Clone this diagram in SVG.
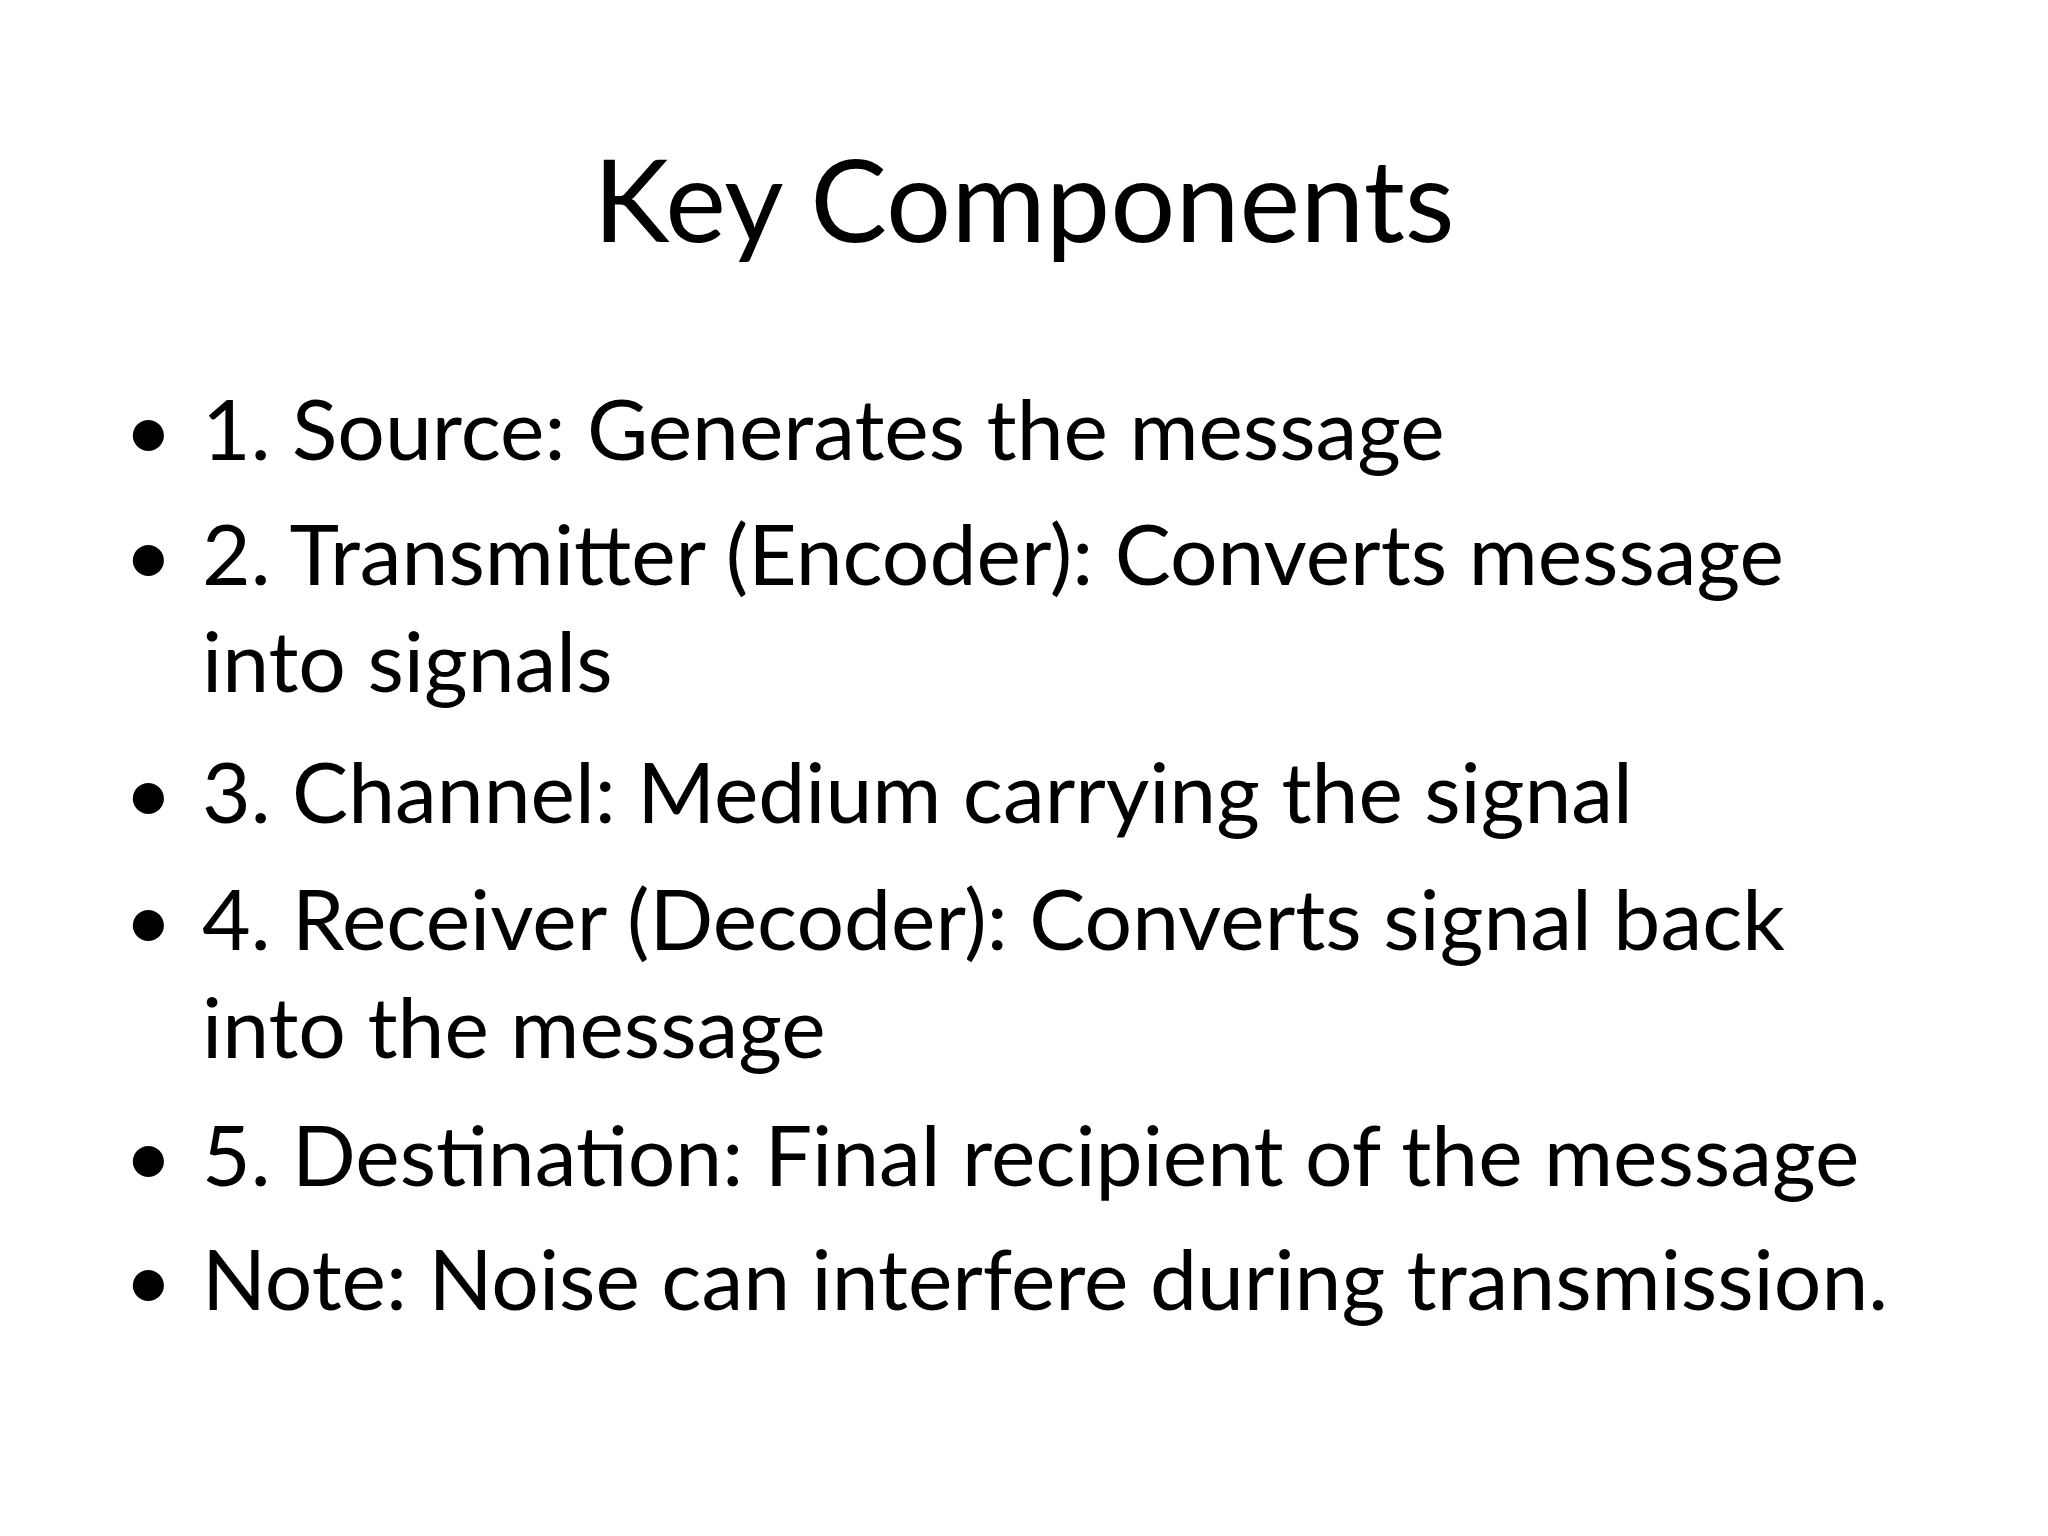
<svg xmlns="http://www.w3.org/2000/svg" width="2048" height="1536" viewBox="0 0 2048 1536">
<style>
.t{font-family:Lato,"Noto Sans",sans-serif;fill:#000}
.b{font-size:84px}
</style>
<rect width="2048" height="1536" fill="#fff"/>
<text class="t" x="1024" y="242" font-size="115" text-anchor="middle">Key Components</text>
<g class="t b">
<text x="124" y="460">•</text><text x="202" y="460">1. Source: Generates the message</text>
<text x="124" y="585">•</text><text x="202" y="585">2. Transmitter (Encoder): Converts message</text>
<text x="202" y="692">into signals</text>
<text x="124" y="823">•</text><text x="202" y="823">3. Channel: Medium carrying the signal</text>
<text x="124" y="950">•</text><text x="202" y="950">4. Receiver (Decoder): Converts signal back</text>
<text x="202" y="1058">into the message</text>
<text x="124" y="1186">•</text><text x="202" y="1186">5. Destination: Final recipient of the message</text>
<text x="124" y="1310">•</text><text x="202" y="1310">Note: Noise can interfere during transmission.</text>
</g>
</svg>
